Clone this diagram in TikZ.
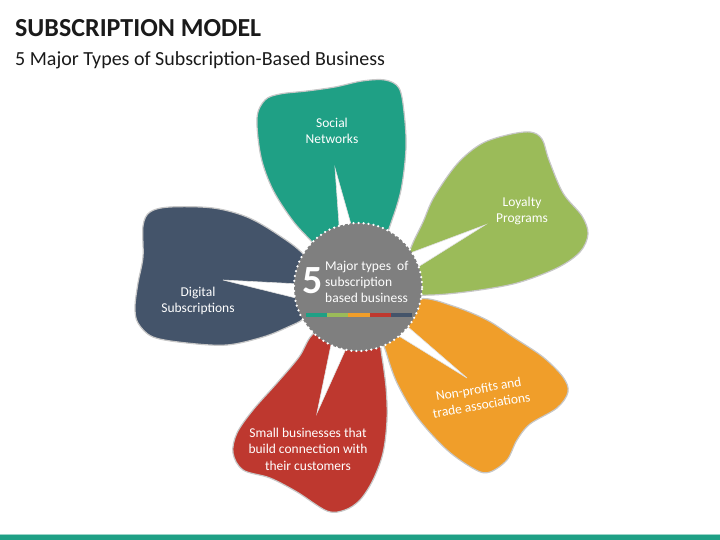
\documentclass[tikz,border=0pt]{standalone}
\usepackage{fontspec}
\setmainfont{Carlito}
\usepackage{xcolor}
\usepackage{tikz}
\definecolor{petalteal}{RGB}{31,160,133}
\definecolor{petalgreen}{RGB}{155,187,89}
\definecolor{petalorange}{RGB}{240,158,42}
\definecolor{petalred}{RGB}{190,56,47}
\definecolor{petalnavy}{RGB}{68,84,106}
\definecolor{hubgray}{RGB}{127,127,127}
\definecolor{titletext}{RGB}{26,26,26}

\begin{document}
\begin{tikzpicture}[x=1pt, y=-1pt,
    petal/.style={draw=black!22, line width=1.2pt},
    notch/.style={fill=white, draw=black!12, line width=0.6pt},
    petaltext/.style={text=white, align=center, font=\fontsize{13.5}{16.5}\selectfont}]
            \useasboundingbox (0,0) rectangle (720,540);

            % Title and subtitle
            \node[anchor=base west, inner sep=0, text=titletext, font=\fontsize{26}{30}\selectfont\bfseries] (title) at (15,36.5) {SUBSCRIPTION MODEL};
            \node[anchor=base west, inner sep=0, text=titletext, font=\fontsize{20}{24}\selectfont] (subtitle) at (15,66) {5 Major Types of Subscription-Based Business};

            % Social networks petal
            \draw[petal, fill=petalteal] plot[smooth cycle, tension=0.55] coordinates {(335,268) (312,242) (293,221) (273,190) (261,157) (257,118) (265,100) (280,94) (307,91) (335,87) (362,81) (385,80) (399,88) (404,112) (406,148) (401,190) (391,223) (380,250) (362,268)};

            % Loyalty programs petal
            \draw[petal, fill=petalgreen] plot[smooth cycle, tension=0.55] coordinates {(400,278) (412,245) (423,222) (434,197) (457,164) (481,144) (507,135) (530,132) (542,139) (549,160) (563,193) (582,216) (588,234) (580,252) (557,268) (517,283) (473,291) (432,295) (405,293)};

            % Non-profits petal
            \draw[petal, fill=petalorange] plot[smooth cycle, tension=0.55] coordinates {(395,320) (420,299) (453,306) (487,320) (513,337) (543,357) (563,377) (568,392) (557,408) (530,424) (517,440) (507,460) (490,472) (476,470) (447,450) (417,417) (397,383) (386,352) (382,335)};

            % Small businesses petal
            \draw[petal, fill=petalred] plot[smooth cycle, tension=0.55] coordinates {(378,330) (381,350) (386,387) (387,420) (383,453) (373,480) (360,500) (345,510) (327,511) (297,492) (270,478) (243,470) (233,453) (237,433) (253,410) (277,383) (299,357) (312,335) (335,320)};

            % Digital subscriptions petal
            \draw[petal, fill=petalnavy] plot[smooth cycle, tension=0.55] coordinates {(320,285) (304,255) (277,234) (247,217) (213,208) (170,207) (150,212) (143,226) (143,257) (138,283) (135,307) (138,323) (153,337) (187,343) (227,345) (263,337) (288,327) (305,318) (322,300)};

            % Notches
            \draw[notch] (340,238) -- (335,168) -- (354,235) -- cycle;
            \draw[notch] (405,255) -- (485,225) -- (410,272) -- cycle;
            \draw[notch] (400,320) -- (467,378) -- (394,333) -- cycle;
            \draw[notch] (332,340) -- (317,413) -- (349,342) -- cycle;
            \draw[notch] (300,284) -- (223,280) -- (300,299) -- cycle;

            % Central hub
            \node[circle, fill=hubgray, draw=white, line width=2.5pt, line cap=round, dash pattern=on 0pt off 5pt, minimum size=128pt, inner sep=0] (hub) at (358,287) {};
            \foreach \c [count=\i from 0] in {petalteal,petalgreen,petalorange,petalred,petalnavy}
                \fill[\c] (306+21.2*\i,313) rectangle ++(21.2,4);
            \node[text=white, inner sep=0, font=\fontsize{40}{40}\selectfont\bfseries] (five) at (313,281) {5};
            \node[anchor=west, inner sep=0, text=white, align=left, font=\fontsize{13.5}{16}\selectfont] (hubtext) at (325,282) {Major types\ \ of\\subscription\\based business};

            % Petal labels
            \node[petaltext] (social) at (332,131) {Social\\Networks};
            \node[petaltext] (loyalty) at (522,211) {Loyalty\\Programs};
            \node[petaltext, rotate=10, inner sep=1pt] (nonprofit) at (480,397) {Non-profits and\\trade associations};
            \node[petaltext] (smallbiz) at (308,449) {Small businesses that\\build connection with\\their customers};
            \node[petaltext] (digital) at (198,301) {Digital\\Subscriptions};

            % Bottom bar
            \fill[petalteal] (0,535) rectangle (720,540);
            \draw[petalteal!45, line width=1pt] (0,534) -- (720,534);
        \end{tikzpicture}
\end{document}
